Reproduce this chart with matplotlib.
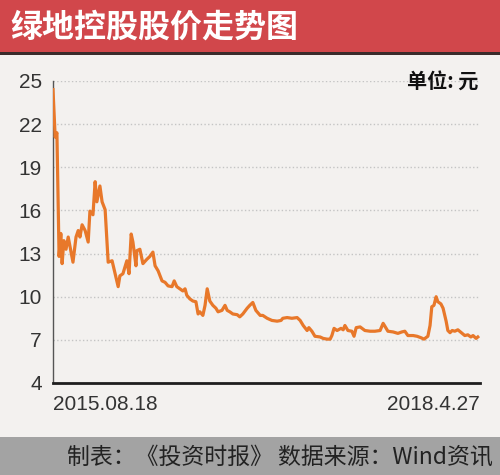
import matplotlib
matplotlib.use('Agg')
import matplotlib.pyplot as plt
from matplotlib.patches import Rectangle

plt.rcParams['font.family'] = ['Noto Sans CJK SC', 'DejaVu Sans']

# data: days after 2015-08-18 and closing price (yuan)
days_from_start = [0, 5, 9, 14, 18, 21, 25, 30, 35, 39, 46, 53, 58, 62, 67, 74, 81, 85, 92, 97,
                   101, 108, 113, 120, 127, 136, 150, 154, 161, 170, 175, 180, 184, 191, 193, 200,
                   207, 216, 223, 230, 235, 242, 251, 258, 265, 274, 279, 285, 292, 299, 304, 308,
                   315, 322, 329, 334, 338, 345, 350, 355, 361, 368, 375, 380, 389, 396, 401, 407,
                   414, 424, 430, 437, 447, 453, 460, 467, 477, 483, 493, 504, 516, 525, 529, 539,
                   550, 562, 569, 576, 585, 589, 596, 603, 615, 622, 631, 638, 642, 647, 654, 663,
                   668, 672, 679, 688, 693, 698, 707, 718, 730, 741, 753, 760, 767, 771, 783, 794,
                   803, 810, 817, 829, 838, 847, 854, 863, 868, 872, 877, 882, 886, 893, 898, 905,
                   909, 914, 919, 925, 932, 942, 948, 955, 962, 967, 974, 978]
price = [24.4, 21.1, 21.4, 12.8, 14.4, 12.3, 13.9, 13.3, 14.15, 13.5, 12.4, 14.15, 14.6, 14.15,
         15.0, 14.6, 13.8, 15.95, 15.7, 18.0, 16.6, 17.7, 16.6, 16.05, 12.4, 12.5, 10.7, 11.45,
         11.6, 12.5, 11.6, 14.36, 13.8, 12.15, 13.2, 13.3, 12.3, 12.6, 12.8, 13.1, 12.15, 11.8,
         11.1, 11.0, 10.75, 10.7, 11.1, 10.7, 10.55, 10.4, 10.55, 10.1, 9.85, 9.7, 9.65, 8.8,
         8.95, 8.7, 9.4, 10.55, 9.7, 9.4, 9.2, 8.95, 9.05, 9.4, 9.05, 8.95, 8.8, 8.75, 8.6, 8.8,
         9.2, 9.4, 9.6, 9.05, 8.7, 8.7, 8.5, 8.35, 8.3, 8.35, 8.5, 8.55, 8.5, 8.55, 8.35, 8.0,
         7.65, 7.85, 7.6, 7.25, 7.2, 7.1, 7.05, 7.05, 7.3, 7.8, 7.65, 7.8, 7.7, 8.0, 7.65, 7.6,
         7.25, 7.85, 7.9, 7.65, 7.6, 7.6, 7.65, 8.15, 7.8, 7.6, 7.55, 7.45, 7.55, 7.6, 7.3, 7.3,
         7.25, 7.15, 7.05, 7.25, 8.0, 9.3, 9.4, 10.0, 9.65, 9.5, 9.2, 8.3, 7.65, 7.5, 7.65, 7.6,
         7.7, 7.45, 7.3, 7.35, 7.2, 7.3, 7.1, 7.2]
total_days = 983
yticks = [4, 7, 10, 13, 16, 19, 22, 25]
start_label = '2015.08.18'
end_label = '2018.4.27'

W, H = 500, 475


def fx(px):
    return px / W


def fy(py):
    return 1 - py / H


fig = plt.figure(figsize=(5, 4.75), dpi=100)
fig.patch.set_facecolor('#f3f1ef')

# header band
fig.add_artist(Rectangle((0, fy(52)), 1, 52 / H, transform=fig.transFigure,
                         facecolor='#d1474b', edgecolor='none', zorder=0))
fig.add_artist(Rectangle((0, fy(55)), 1, 3 / H, transform=fig.transFigure,
                         facecolor='#3a2b2b', edgecolor='none', zorder=0))
fig.text(fx(10), fy(28), '绿地控股股价走势图', color='white', fontsize=23,
         fontweight='bold', ha='left', va='center')

# footer band
fig.add_artist(Rectangle((0, 0), 1, fy(437), transform=fig.transFigure,
                         facecolor='#a3a3a3', edgecolor='none', zorder=0))
fig.text(fx(493), fy(457), '制表：《投资时报》 数据来源：Wind资讯', color='#222222',
         fontsize=16.5, ha='right', va='center')

ax = fig.add_axes([fx(53), fy(383), fx(480) - fx(53), fy(81) - fy(383)])
ax.set_facecolor('none')
ax.plot(days_from_start, price, color='#e8782a', lw=2.3, solid_joinstyle='round', zorder=3)
ax.set_xlim(0, total_days)
ax.set_ylim(4, 25)
ax.set_yticks(yticks)
ax.set_xticks([])
ax.yaxis.grid(True, ls=':', color='#c4c4c4', lw=1)
ax.tick_params(axis='y', length=0, pad=8, labelsize=15, labelcolor='#333333')
for lbl in ax.get_yticklabels():
    lbl.set_family('Liberation Sans')

for side in ['top', 'right']:
    ax.spines[side].set_visible(False)
ax.spines['left'].set_color('#555555')
ax.spines['left'].set_linewidth(1)
ax.spines['bottom'].set_color('#1e1e1e')
ax.spines['bottom'].set_linewidth(2)

fig.text(fx(478), fy(81), '单位: 元', color='#111111', fontsize=14.5, fontweight='bold',
         ha='right', va='center')
fig.text(fx(53), fy(405), start_label, color='#333333', fontsize=15,
         family='Liberation Sans', ha='left', va='center')
fig.text(fx(480), fy(405), end_label, color='#333333', fontsize=15,
         family='Liberation Sans', ha='right', va='center')

fig.savefig('out.png', dpi=100, facecolor=fig.get_facecolor())
